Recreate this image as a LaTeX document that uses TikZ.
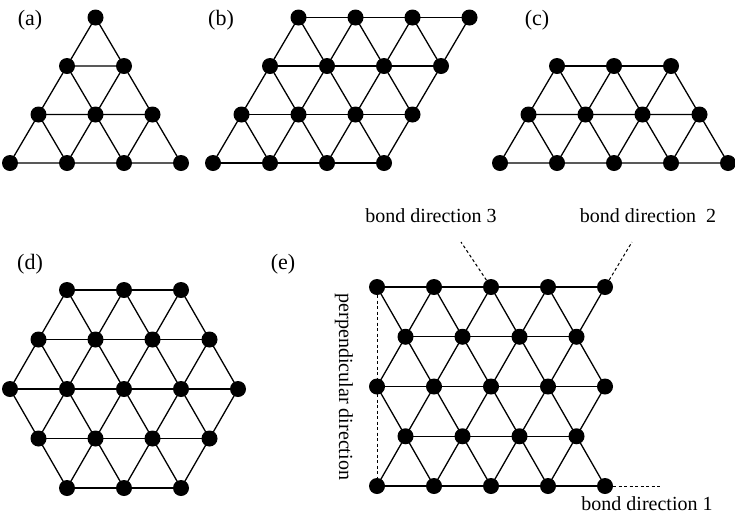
\documentclass[tikz,border=0pt]{standalone}
\usepackage{fontspec}
\setmainfont{Liberation Serif}
\usetikzlibrary{backgrounds}
\begin{document}
\begin{tikzpicture}[x=1pt,y=-1pt,
  site/.style={circle,fill=black,inner sep=0pt,minimum size=16pt},
  bond/.style={line width=1.3pt},
  guide/.style={dashed,line width=1pt,dash pattern=on 3pt off 2.5pt},
  lbl/.style={font=\fontsize{20}{23}\selectfont,inner sep=0pt},
  tag/.style={font=\fontsize{22}{25}\selectfont,inner sep=0pt}]
\useasboundingbox (0,0) rectangle (735,515);
% labels
\node[tag] (la) at (30,20) {(a)};
\node[tag] (lb) at (221,20) {(b)};
\node[tag] (lc) at (537,20) {(c)};
\node[tag] (ld) at (30,264) {(d)};
\node[tag] (le) at (283,264) {(e)};
% (a)
\foreach \j in {0,...,3}{\pgfmathtruncatemacro\m{3-\j}
  \foreach \i in {0,...,\m}{\node[site] (a-\i-\j) at ({10+57*\i+28.5*\j},{163-48.5*\j}) {};}}
\begin{scope}[on background layer]
\foreach \j in {0,...,2}{\pgfmathtruncatemacro\m{2-\j}\pgfmathtruncatemacro\jn{\j+1}
  \foreach \i in {0,...,\m}{\pgfmathtruncatemacro\ii{\i+1}
   \draw[bond] (a-\i-\j.center)--(a-\ii-\j.center)--(a-\i-\jn.center)--cycle;}}
\end{scope}
% (b)
\foreach \j in {0,...,3}{\foreach \i in {0,...,3}{\node[site] (b-\i-\j) at ({213+57*\i+28.5*\j},{163-48.5*\j}) {};}}
\begin{scope}[on background layer]
\foreach \j in {0,...,3}{\draw[bond] (b-0-\j.center)--(b-3-\j.center);}
\foreach \j in {0,...,2}{\pgfmathtruncatemacro\jn{\j+1}
  \foreach \i in {0,...,3}{\draw[bond] (b-\i-\j.center)--(b-\i-\jn.center);}
  \foreach \i in {1,...,3}{\pgfmathtruncatemacro\ip{\i-1}\draw[bond] (b-\i-\j.center)--(b-\ip-\jn.center);}}
\end{scope}
% (c)
\foreach \j in {0,...,2}{\pgfmathtruncatemacro\m{4-\j}
  \foreach \i in {0,...,\m}{\node[site] (c-\i-\j) at ({500+57*\i+28.5*\j},{163-48.5*\j}) {};}}
\begin{scope}[on background layer]
\foreach \j in {0,...,1}{\pgfmathtruncatemacro\m{3-\j}\pgfmathtruncatemacro\jn{\j+1}
  \foreach \i in {0,...,\m}{\pgfmathtruncatemacro\ii{\i+1}
   \draw[bond] (c-\i-\j.center)--(c-\ii-\j.center)--(c-\i-\jn.center)--cycle;}}
\draw[bond] (c-0-2.center)--(c-2-2.center);
\end{scope}
% (d)
\foreach \r in {0,...,4}{\pgfmathtruncatemacro\d{abs(\r-2)}\pgfmathtruncatemacro\m{4-\d}
  \foreach \k in {0,...,\m}{\node[site] (d-\r-\k) at ({10+28.5*\d+57*\k},{290+49.5*\r}) {};}}
\begin{scope}[on background layer]
\foreach \r/\m in {0/2,1/3,2/4,3/3,4/2}{\draw[bond] (d-\r-0.center)--(d-\r-\m.center);}
\foreach \r/\m in {0/2,1/3}{\pgfmathtruncatemacro\rn{\r+1}
  \foreach \k in {0,...,\m}{\pgfmathtruncatemacro\kk{\k+1}
   \draw[bond] (d-\rn-\k.center)--(d-\r-\k.center)--(d-\rn-\kk.center);}}
\foreach \r/\m in {2/3,3/2}{\pgfmathtruncatemacro\rn{\r+1}
  \foreach \k in {0,...,\m}{\pgfmathtruncatemacro\kk{\k+1}
   \draw[bond] (d-\r-\k.center)--(d-\rn-\k.center)--(d-\r-\kk.center);}}
\end{scope}
% (e)
\foreach \r in {0,2,4}{\foreach \k in {0,...,4}{\node[site] (e-\r-\k) at ({377+57*\k},{287+49.75*\r}) {};}}
\foreach \r in {1,3}{\foreach \k in {0,...,3}{\node[site] (e-\r-\k) at ({405.5+57*\k},{287+49.75*\r}) {};}}
\begin{scope}[on background layer]
\foreach \r in {0,2,4}{\draw[bond] (e-\r-0.center)--(e-\r-4.center);}
\foreach \r in {1,3}{\draw[bond] (e-\r-0.center)--(e-\r-3.center);
  \pgfmathtruncatemacro\ru{\r-1}\pgfmathtruncatemacro\rd{\r+1}
  \foreach \k in {0,...,3}{\pgfmathtruncatemacro\kk{\k+1}
   \draw[bond] (e-\ru-\k.center)--(e-\r-\k.center)--(e-\ru-\kk.center);
   \draw[bond] (e-\rd-\k.center)--(e-\r-\k.center)--(e-\rd-\kk.center);}}
\end{scope}
% guides
\draw[guide] (e-0-0)--(e-4-0);
\coordinate (g3) at (461,242);
\coordinate (g2) at (632,242);
\coordinate (g1) at (660,486);
\draw[guide] (e-0-2)--(g3);
\draw[guide] (e-0-4)--(g2);
\draw[guide] (e-4-4)--(g1);
\node[lbl] (t3) at (431,216) {bond direction 3};
\node[lbl] (t2) at (648,216) {bond direction \ 2};
\node[lbl] (t1) at (647,504) {bond direction 1};
\node[lbl,rotate=-90] (tp) at (344,387) {perpendicular direction};
\end{tikzpicture}
\end{document}
